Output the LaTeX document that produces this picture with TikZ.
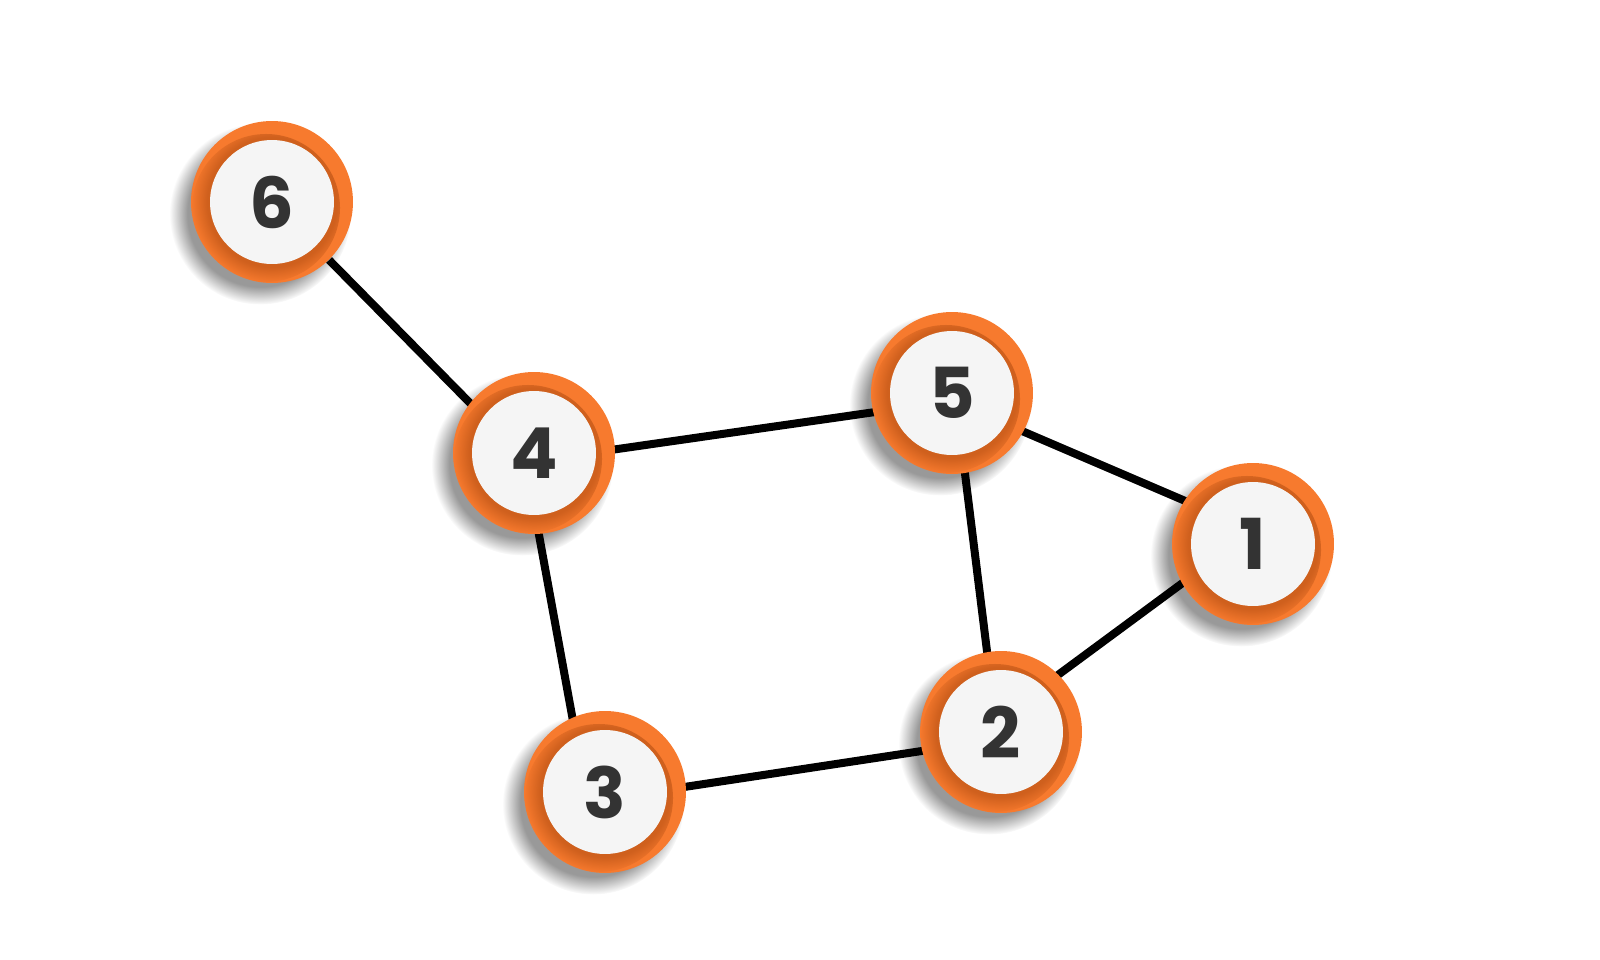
\documentclass[tikz,border=0pt]{standalone}
\usepackage{fontspec}
\setmainfont{Poppins}
\definecolor{ringorange}{RGB}{247,122,46}
\definecolor{ringdark}  {RGB}{160,65,10}
\definecolor{discwhite} {RGB}{245,245,245}
\definecolor{digitgray} {RGB}{51,51,51}
\usetikzlibrary{shadows,backgrounds,fadings}
\tikzset{
  vtx/.style={circle,fill=ringorange,minimum size=3.24cm,inner sep=0pt,
              general shadow={shadow scale=1.12,shadow xshift=-6pt,shadow yshift=-6pt,
                              fill=black,opacity=0.4,
                              path fading=circle with fuzzy edge 20 percent},
              text=digitgray,font=\fontsize{40}{40}\selectfont\bfseries,
              path picture={
                \fill[ringdark,opacity=0.45,path fading=circle with fuzzy edge 20 percent]
                  ([xshift=-0.12cm,yshift=-0.12cm]path picture bounding box.center) circle (1.48cm);
                \fill[discwhite] (path picture bounding box.center) circle (1.24cm);
              }},
  edge/.style={draw=black,line width=0.16cm},
}
\begin{document}
\begin{tikzpicture}[x=0.02cm,y=-0.02cm]
  \useasboundingbox (0,0) rectangle (1600,960);

  % vertices
  \node[vtx] (v6) at (272,202) {6};
  \node[vtx] (v4) at (534,453) {4};
  \node[vtx] (v5) at (952,393) {5};
  \node[vtx] (v1) at (1253,544) {1};
  \node[vtx] (v2) at (1001,732) {2};
  \node[vtx] (v3) at (605,792) {3};

  % edges
  \begin{scope}[on background layer]
    \draw[edge] (v6) -- ([yshift=-0.30cm]v4.center);
    \draw[edge] ([yshift=-0.16cm]v4.center) -- ([yshift=-0.16cm]v5.center);
    \draw[edge] ([xshift=-0.20cm]v4.center) -- ([xshift=-0.38cm]v3.center);
    \draw[edge] ([yshift=-0.16cm]v5.center) -- ([yshift=0.28cm]v1.center);
    \draw[edge] ([xshift=0.06cm]v5.center) -- ([xshift=-0.08cm]v2.center);
    \draw[edge] ([yshift=0.26cm]v1.center) -- ([yshift=0.30cm]v2.center);
    \draw[edge] ([yshift=-0.14cm]v3.center) -- ([yshift=-0.14cm]v2.center);
  \end{scope}
\end{tikzpicture}
\end{document}
